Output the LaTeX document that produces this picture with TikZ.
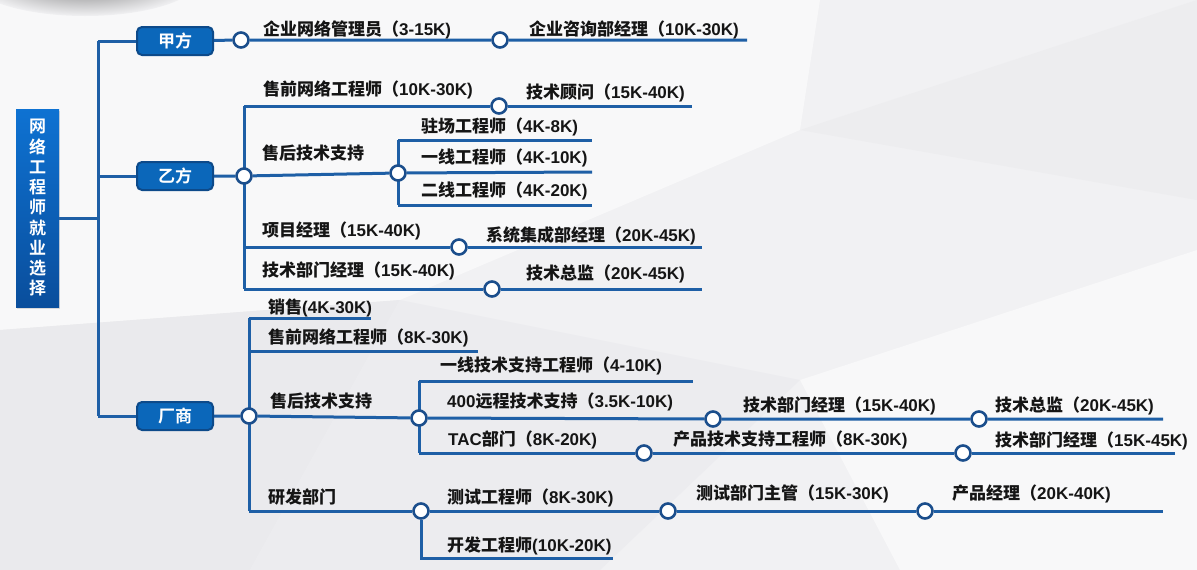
\documentclass[tikz,border=0pt]{standalone}
\usepackage{fontspec}
\setmainfont{Liberation Sans}
\newfontfamily\cjk{Noto Sans CJK SC Bold}
\usetikzlibrary{shadows}
\newcommand\C[1]{{\cjk #1}}
\definecolor{ln}{HTML}{1E5FA6}
\definecolor{dotc}{HTML}{1B4E8C}
\definecolor{boxf}{HTML}{0B67BA}
\definecolor{boxd}{HTML}{0D4A8A}
\definecolor{ttop}{HTML}{0E72D2}
\definecolor{tbot}{HTML}{0A4E9C}
\definecolor{txt}{HTML}{151515}
\definecolor{bgc}{HTML}{F1F1F3}
\definecolor{bgl}{HTML}{F8F8F9}
\definecolor{bgd}{HTML}{EAEAED}
\pgfdeclarelayer{bg}\pgfdeclarelayer{lines}\pgfsetlayers{bg,lines,main}
\begin{document}
\begin{tikzpicture}[x=1pt,y=-1pt,
  conn/.style={draw=ln, line width=3pt},
  dot/.style={circle, draw=dotc, line width=2.6pt, fill=white, minimum size=15pt, inner sep=0pt},
  lbl/.style={anchor=base west, inner sep=0pt, font=\fontsize{17}{20}\selectfont\bfseries, text=txt},
  party/.style={rounded corners=5pt, draw=boxd, line width=2pt, fill=boxf, minimum width=76pt, minimum height=28pt, inner sep=0pt, text=white, font=\fontsize{17}{20}\selectfont\cjk},
  titlebox/.style={rectangle, top color=ttop, bottom color=tbot, minimum width=43pt, minimum height=198pt, inner sep=0pt, text=white, align=center, font=\fontsize{17}{20.25}\selectfont\cjk, drop shadow={opacity=0.25, shadow xshift=1pt, shadow yshift=-2pt}}
]
\useasboundingbox (0,0) rectangle (1197,570);
% background
\begin{pgfonlayer}{bg}
\fill[bgc] (0,0) rectangle (1197,570);
\fill[bgl] (0,0) -- (820,0) -- (800,130) -- (400,300) -- (0,330) -- cycle;
\fill[bgd] (0,330) -- (400,300) -- (250,570) -- (0,570) -- cycle;
\fill[bgd!60!bgc] (800,130) -- (1197,0) -- (1197,200) -- cycle;
\fill[bgl] (800,380) -- (1197,250) -- (1197,570) -- (900,570) -- cycle;
\fill[bgd!70!bgc] (400,300) -- (800,380) -- (600,570) -- (250,570) -- cycle;
\shade[inner color=black!55, outer color=bgc] (85,-22) ellipse (115 and 38);
\end{pgfonlayer}

% title and party boxes
\node[titlebox] (title) at (37.5,208) {网\\络\\工\\程\\师\\就\\业\\选\\择};
\node[party] (jia) at (175,41) {甲方};
\node[party] (yi) at (175,176) {乙方};
\node[party] (chang) at (175,416) {厂商};

% circles
\node[dot] (cA) at (241,40) {};
\node[dot] (cA2) at (500,40) {};
\node[dot] (cB) at (244,176) {};
\node[dot] (cB1) at (499,106) {};
\node[dot] (cB2) at (398,173) {};
\node[dot] (cB3) at (459,247) {};
\node[dot] (cB4) at (492,289) {};
\node[dot] (cC) at (249,416) {};
\node[dot] (cC1) at (419,418) {};
\node[dot] (cC2) at (713,419) {};
\node[dot] (cC3) at (979,419) {};
\node[dot] (cC4) at (644,453) {};
\node[dot] (cC5) at (963,453) {};
\node[dot] (cC6) at (421,511) {};
\node[dot] (cC7) at (668,511) {};
\node[dot] (cC8) at (925,511) {};

% coordinates
\coordinate (trT) at (98,218);
\coordinate (trA) at (98,41);
\coordinate (trB) at (98,176);
\coordinate (trC) at (98,416);
\coordinate (eA) at (747,40);
\coordinate (bTop) at (244,106);
\coordinate (bBot) at (244,289);
\coordinate (b3) at (244,247);
\coordinate (eB1) at (692,106);
\coordinate (sT) at (398,140);
\coordinate (sB) at (398,205);
\coordinate (eB4) at (592,140);
\coordinate (eB5) at (592,172);
\coordinate (eB6) at (592,205);
\coordinate (eB3) at (702,247);
\coordinate (eB7) at (702,289);
\coordinate (cTop) at (249,318);
\coordinate (cSq) at (249,351);
\coordinate (cBot) at (249,511);
\coordinate (eC1) at (371,318);
\coordinate (eC2) at (478,351);
\coordinate (eC3) at (1163,419);
\coordinate (s2T) at (419,381);
\coordinate (s2B) at (419,453);
\coordinate (eC4) at (693,381);
\coordinate (eC5) at (1175,453);
\coordinate (eC6) at (1163,511);
\coordinate (eC7) at (613,558);

% connectors
\begin{pgfonlayer}{lines}
\draw[conn] (title.east |- trT) -- (trT);
\draw[conn] (trA) -- (trC);
\draw[conn] (trA) -- (jia);
\draw[conn] (trB) -- (yi);
\draw[conn] (trC) -- (chang);
\draw[conn] (jia) -- (cA) -- (cA2) -- (eA);
% yi
\draw[conn] (yi) -- (cB) -- (cB2);
\draw[conn] (bTop) -- (bBot);
\draw[conn] (bTop) -- (cB1) -- (eB1);
\draw[conn] (sT) -- (sB);
\draw[conn] (sT) -- (eB4);
\draw[conn] (cB2) -- (eB5);
\draw[conn] (sB) -- (eB6);
\draw[conn] (b3) -- (cB3) -- (eB3);
\draw[conn] (bBot) -- (cB4) -- (eB7);
% chang
\draw[conn] (chang) -- (cC) -- (cC1) -- (cC2) -- (cC3) -- (eC3);
\draw[conn] (cTop) -- (cBot);
\draw[conn] (cTop) -- (eC1);
\draw[conn] (cSq) -- (eC2);
\draw[conn] (s2T) -- (s2B);
\draw[conn] (s2T) -- (eC4);
\draw[conn] (s2B) -- (cC4) -- (cC5) -- (eC5);
\draw[conn] (cBot) -- (cC6) -- (cC7) -- (cC8) -- (eC6);
\draw[conn] (cC6) |- (eC7);
\end{pgfonlayer}

% labels (baseline = visual centre + 6.5)
\node[lbl] (tA1) at (263,35.5) {\C{企业网络管理员（}3-15K)};
\node[lbl] (tA2) at (529,35.5) {\C{企业咨询部经理（}10K-30K)};
\node[lbl] (tB1) at (263,95.5) {\C{售前网络工程师（}10K-30K)};
\node[lbl] (tB2) at (526,98.5) {\C{技术顾问（}15K-40K)};
\node[lbl] (tB3) at (262,159.5) {\C{售后技术支持}};
\node[lbl] (tB4) at (421,132.5) {\C{驻场工程师（}4K-8K)};
\node[lbl] (tB5) at (421,163.5) {\C{一线工程师（}4K-10K)};
\node[lbl] (tB6) at (421,196.5) {\C{二线工程师（}4K-20K)};
\node[lbl] (tB7) at (262,236.5) {\C{项目经理（}15K-40K)};
\node[lbl] (tB8) at (486,241.5) {\C{系统集成部经理（}20K-45K)};
\node[lbl] (tB9) at (262,276.5) {\C{技术部门经理（}15K-40K)};
\node[lbl] (tB10) at (526,279.5) {\C{技术总监（}20K-45K)};
\node[lbl] (tC1) at (268,313.5) {\C{销售}(4K-30K)};
\node[lbl] (tC2) at (268,343.5) {\C{售前网络工程师（}8K-30K)};
\node[lbl] (tC3) at (270,407.5) {\C{售后技术支持}};
\node[lbl] (tC4) at (440,371.5) {\C{一线技术支持工程师（}4-10K)};
\node[lbl] (tC5) at (447,407.5) {400\C{远程技术支持（}3.5K-10K)};
\node[lbl] (tC6) at (743,411.5) {\C{技术部门经理（}15K-40K)};
\node[lbl] (tC7) at (995,411.5) {\C{技术总监（}20K-45K)};
\node[lbl] (tC8) at (448,445.5) {TAC\C{部门（}8K-20K)};
\node[lbl] (tC9) at (673,445.5) {\C{产品技术支持工程师（}8K-30K)};
\node[lbl] (tC10) at (995,446.5) {\C{技术部门经理（}15K-45K)};
\node[lbl] (tC11) at (268,503.5) {\C{研发部门}};
\node[lbl] (tC12) at (447,503.5) {\C{测试工程师（}8K-30K)};
\node[lbl] (tC13) at (696,499.5) {\C{测试部门主管（}15K-30K)};
\node[lbl] (tC14) at (952,499.5) {\C{产品经理（}20K-40K)};
\node[lbl] (tC15) at (447,551.5) {\C{开发工程师}(10K-20K)};
\end{tikzpicture}
\end{document}
